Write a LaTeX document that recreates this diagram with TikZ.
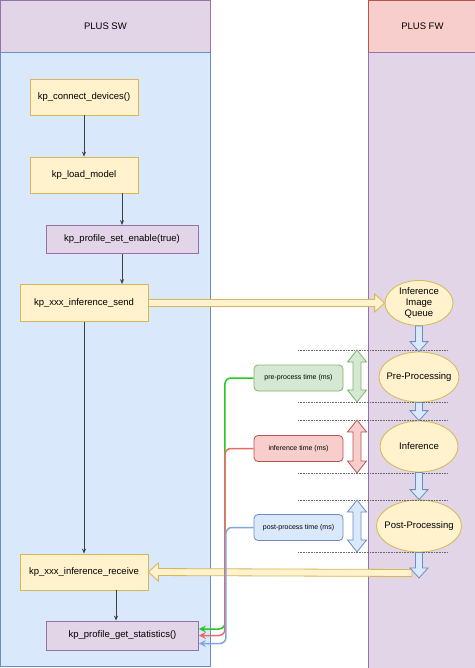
\documentclass[tikz,border=0pt]{standalone}
\usepackage{fontspec}
\setmainfont{Liberation Sans}
\usetikzlibrary{positioning}
\usetikzlibrary{calc}
\usetikzlibrary{shapes.geometric}
\usetikzlibrary{arrows.meta}
\definecolor{note fill}{HTML}{FFF2CC}
\definecolor{note line}{HTML}{D6B656}
\definecolor{lilac fill}{HTML}{E1D5E7}
\definecolor{lilac line}{HTML}{9673A6}
\definecolor{sky fill}{HTML}{DAE8FC}
\definecolor{sky line}{HTML}{6C8EBF}
\definecolor{mint fill}{HTML}{D5E8D4}
\definecolor{mint line}{HTML}{82B366}
\definecolor{rose fill}{HTML}{F8CECC}
\definecolor{rose line}{HTML}{B85450}
\definecolor{pre colour}{HTML}{22CC22}
\definecolor{infer colour}{HTML}{EA6B66}
\definecolor{post colour}{HTML}{7EA6E0}
\colorlet{call colour}{black!75}
\tikzset{
    % Small solid arrow heads for the call sequence
    >={Stealth[length=5pt, width=4pt]},
%
    % Fills and outlines
    yellow look/.style={fill=note fill, draw=note line},
    lilac look/.style={fill=lilac fill, draw=lilac line},
    sky look/.style={fill=sky fill, draw=sky line},
    mint look/.style={fill=mint fill, draw=mint line},
    rose look/.style={fill=rose fill, draw=rose line},
%
    every node/.style={align=center, font=\fontsize{9.5}{11}\selectfont},
%
    lane/.style={draw, rectangle, anchor=north west, line width=0.8pt},
    call/.style={
        draw, rectangle, yellow look, line width=0.8pt,
        minimum width=108pt, minimum height=36pt},
    profile/.style={
        draw, rectangle, lilac look, line width=0.8pt,
        minimum width=152pt, minimum height=28pt},
    stage/.style={draw, ellipse, yellow look, line width=0.8pt, inner sep=0pt},
    timer/.style={
        draw, rectangle, rounded corners=4pt, line width=0.8pt,
        minimum width=89pt, minimum height=26pt,
        font=\fontsize{7}{8}\selectfont},
%
    % Lines
    call line/.style={draw=call colour, line width=0.75pt, ->},
    cut/.style={draw=black!60, densely dotted, line width=0.6pt},
    time line/.style={
        line width=1.5pt, rounded corners=6pt,
        -{Stealth[length=7pt, width=7pt, inset=2.5pt]}},
%
    % Hollow block arrows drawn as one closed outline
    flow/.style={line width=0.8pt,
        to path={
            let \p1=(\tikztostart), \p2=(\tikztotarget),
                \p3=($(\p2)!10pt!(\p1)$) in
            ($(\p1)!3.5pt!90:(\p2)$) -- ($(\p3)!3.5pt!-90:(\p1)$)
            -- ($(\p3)!9pt!-90:(\p1)$) -- (\p2)
            -- ($(\p3)!9pt!90:(\p1)$) -- ($(\p3)!3.5pt!90:(\p1)$)
            -- ($(\p1)!3.5pt!-90:(\p2)$) -- cycle}},
    span/.style={line width=0.8pt,
        to path={
            let \p1=(\tikztostart), \p2=(\tikztotarget),
                \p3=($(\p1)!12pt!(\p2)$), \p4=($(\p2)!12pt!(\p1)$) in
            (\p1) -- ($(\p3)!9.5pt!90:(\p2)$) -- ($(\p3)!4pt!90:(\p2)$)
            -- ($(\p4)!4pt!-90:(\p1)$) -- ($(\p4)!9.5pt!-90:(\p1)$) -- (\p2)
            -- ($(\p4)!9.5pt!90:(\p1)$) -- ($(\p4)!4pt!90:(\p1)$)
            -- ($(\p3)!4pt!-90:(\p2)$) -- ($(\p3)!9.5pt!-90:(\p2)$) -- cycle}},
}
\begin{document}
\begin{tikzpicture}[x=1pt, y=-1pt]
\useasboundingbox (0,0) rectangle (474,668);

% Swim lanes
\path
    (0,0) node [lane, lilac look, minimum width=210pt, minimum height=52pt] (sw head) {PLUS SW}
    (0,52) node [lane, sky look, minimum width=210pt, minimum height=614pt] (sw lane) {}
    (368,0) node [lane, rose look, minimum width=108pt, minimum height=52pt] (fw head) {PLUS FW}
    (368,52) node [lane, lilac look, minimum width=108pt, minimum height=620pt] (fw lane) {};

% Host calls
\path
    (84,97) node [call] (connect) {kp\_connect\_devices()}
    (84,175) node [call] (load) {kp\_load\_model}
    (122,239.5) node [profile] (enable) {kp\_profile\_set\_enable(true)}
    (84,303) node [call, minimum width=128pt, minimum height=37pt] (send) {kp\_xxx\_inference\_send}
    (84,572) node [call, minimum width=128pt] (receive) {kp\_xxx\_inference\_receive}
    (122.5,635.5) node [profile, minimum height=29pt] (stats) {kp\_profile\_get\_statistics()};

% Firmware stages
\path
    (419,303) node [stage, minimum width=68pt, minimum height=45pt] (queue) {Inference\\Image\\Queue}
    (419,377) node [stage, minimum width=80pt, minimum height=50pt, label=center:Pre-Processing] (pre) {}
    (419,446.5) node [stage, minimum width=78pt, minimum height=51pt, label=center:Inference] (infer) {}
    (419,526) node [stage, minimum width=85pt, minimum height=52pt, label=center:Post-Processing] (post) {}
    (419,578) coordinate (done)
    (412,573) coordinate (reply);

% Timing labels
\path
    (298.5,378) node [timer, mint look] (pre time) {pre-process time (ms)}
    (298.5,448.5) node [timer, rose look] (infer time) {inference time (ms)}
    (298.5,527.5) node [timer, sky look] (post time) {post-process time (ms)};

\foreach \y in {350,402,420,473,500,552}
    \draw [cut] (298,\y) -- (448,\y);

\draw [span, mint look] (357,350) to (357,402);
\draw [span, rose look] (357,420) to (357,473);
\draw [span, sky look] (357,500) to (357,552);

\draw [call line] (connect) -- (load);
\draw [call line] (enable.north |- load.south) -- (enable);
\draw [call line] (enable) -- (enable.south |- send.north);
\draw [call line] (send) -- (receive);
\draw [call line] ([xshift=32pt]receive.south) -- ([xshift=32pt]receive.south |- stats.north);

\draw [flow, yellow look] (send.east) to (queue.west);
\draw [flow, yellow look] (reply) to (receive.east);
\draw [flow, sky look] (queue.south) to (pre.north);
\draw [flow, sky look] (pre.south) to (infer.north);
\draw [flow, sky look] (infer.south) to (post.north);
\draw [flow, sky look] (post.south) to (done);

\draw [time line, pre colour] (pre time.west) -| ([xshift=26pt, yshift=6.5pt]stats.east) -- ([yshift=6.5pt]stats.east);
\draw [time line, infer colour] (infer time.west) -| ([xshift=26pt]stats.east) -- (stats.east);
\draw [time line, post colour] (post time.west) -| ([xshift=27pt, yshift=-8pt]stats.east) -- ([yshift=-8pt]stats.east);

\end{tikzpicture}
\end{document}
